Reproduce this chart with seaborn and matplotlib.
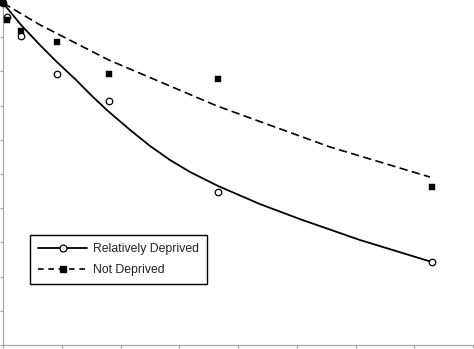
import matplotlib
matplotlib.use("Agg")
import matplotlib.pyplot as plt
from matplotlib.lines import Line2D
import pandas as pd
import seaborn as sns

# Observed proportions at each follow-up point
obs_time = [0, 0.37, 1.53, 4.57, 9.05, 18.27, 36.48]
deprived_obs = [1.0, 0.960, 0.904, 0.792, 0.714, 0.447, 0.242]
not_deprived_obs = [1.0, 0.950, 0.918, 0.887, 0.792, 0.777, 0.463]

# Fitted curves
deprived_fit_time = [0, 1.53, 3.15, 4.60, 6.13, 7.57, 8.94, 10.81, 12.51, 14.21,
                     15.91, 18.30, 21.87, 25.28, 30.38, 36.48]
deprived_fit = [1.0, 0.936, 0.877, 0.827, 0.778, 0.728, 0.684, 0.629, 0.582, 0.541,
                0.506, 0.465, 0.412, 0.368, 0.307, 0.243]
not_deprived_fit_time = [0, 3.15, 9.02, 18.21, 27.83, 36.34]
not_deprived_fit = [1.0, 0.936, 0.833, 0.699, 0.579, 0.491]

labels = ["Relatively Deprived", "Not Deprived"]

sns.set_style("white")
plt.rcParams["font.family"] = ["Liberation Sans", "DejaVu Sans"]

fig = plt.figure(figsize=(4.74, 3.49), dpi=100)
ax = fig.add_axes([3 / 474, 4 / 349, 470 / 474, 342 / 349])

fit_dep = pd.DataFrame({"t": deprived_fit_time, "p": deprived_fit})
fit_not = pd.DataFrame({"t": not_deprived_fit_time, "p": not_deprived_fit})
obs = pd.DataFrame({"t": obs_time, "dep": deprived_obs, "not": not_deprived_obs})

sns.lineplot(data=fit_dep, x="t", y="p", ax=ax, color="black", lw=1.3,
             sort=False, legend=False)
sns.lineplot(data=fit_not, x="t", y="p", ax=ax, color="black", lw=1.2,
             sort=False, legend=False, dashes=False)
ax.lines[-1].set_dashes((5, 2.6))
for ln in ax.lines:
    ln.set_solid_joinstyle("round")
    ln.set_dash_joinstyle("round")

sns.scatterplot(data=obs, x="t", y="dep", ax=ax, marker="o", s=22,
                facecolor="white", edgecolor="black", linewidth=0.9,
                clip_on=False, zorder=3, legend=False)
sns.scatterplot(data=obs, x="t", y="not", ax=ax, marker="s", s=14,
                color="black", edgecolor="black", linewidth=0.3,
                clip_on=False, zorder=4, legend=False)

ax.set_xlim(0, 40)
ax.set_ylim(0, 1)
ax.set_xticks(range(0, 41, 5))
ax.set_yticks([i / 10 for i in range(11)])
ax.set_xticklabels([])
ax.set_yticklabels([])
ax.set_xlabel("")
ax.set_ylabel("")

for side in ["top", "right"]:
    ax.spines[side].set_visible(False)
for side in ["left", "bottom"]:
    ax.spines[side].set_color("#a8a8a8")
    ax.spines[side].set_linewidth(0.9)
ax.tick_params(axis="both", which="both", direction="out", length=2.5,
               width=0.9, color="#a8a8a8", bottom=True, left=True)

handles = [
    Line2D([], [], color="black", lw=1.3, marker="o", markersize=5,
           markerfacecolor="white", markeredgecolor="black", markeredgewidth=0.9),
    Line2D([], [], color="black", lw=1.2, dashes=(3.4, 2.8), marker="s",
           markersize=4.2, markerfacecolor="black", markeredgecolor="black"),
]
leg = ax.legend(handles, labels, loc="upper left",
                bbox_to_anchor=(30 / 474, 114 / 349), bbox_transform=fig.transFigure,
                borderaxespad=0, fontsize=8.8, handlelength=4.0, handletextpad=0.5,
                borderpad=0.67, labelspacing=0.72, frameon=True, fancybox=False,
                framealpha=1, edgecolor="black")
leg.get_frame().set_linewidth(1.0)
for t in leg.get_texts():
    t.set_color("#222222")

fig.savefig("out.png", dpi=100)
